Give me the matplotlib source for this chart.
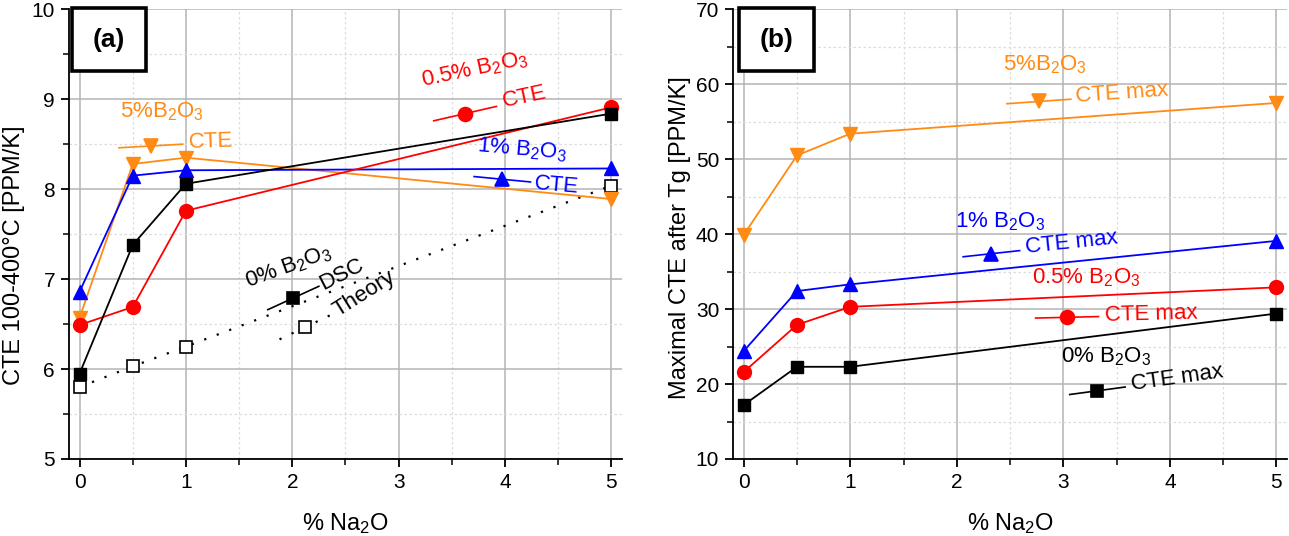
import matplotlib
matplotlib.use("Agg")
import matplotlib.pyplot as plt
from matplotlib.patches import Rectangle
from matplotlib.ticker import MultipleLocator

plt.rcParams['font.family'] = ['Liberation Sans', 'DejaVu Sans']
plt.rcParams['mathtext.fontset'] = 'custom'
plt.rcParams['mathtext.rm'] = 'Liberation Sans'
plt.rcParams['mathtext.it'] = 'Liberation Sans:italic'
plt.rcParams['mathtext.default'] = 'regular'

# ---------------- data ----------------
na2o = [0, 0.5, 1, 5]

# panel (a): CTE 100-400 C
cte_0_dsc = [5.95, 7.38, 8.06, 8.84]
cte_0_theory = [5.80, 6.03, 6.25, 8.04]
cte_05 = [6.49, 6.69, 7.76, 8.91]
cte_1 = [6.86, 8.15, 8.21, 8.23]
cte_5 = [6.57, 8.28, 8.35, 7.89]

# panel (b): maximal CTE after Tg
max_0 = [17.2, 22.3, 22.3, 29.4]
max_05 = [21.6, 27.9, 30.3, 32.9]
max_1 = [24.4, 32.4, 33.3, 39.1]
max_5 = [39.9, 50.5, 53.4, 57.5]

x_ticks = [0, 1, 2, 3, 4, 5]
a_yticks = [5, 6, 7, 8, 9, 10]
b_yticks = [10, 20, 30, 40, 50, 60, 70]

RED = '#ff0000'
BLUE = '#0000ff'
ORANGE = '#ff8a14'
BLACK = '#000000'

TICK_FS = 15
LABEL_FS = 17
ANN_FS = 16

fig = plt.figure(figsize=(12.89, 5.36), dpi=100)
axa = fig.add_axes([0.0535, 0.1437, 0.429, 0.839])
axb = fig.add_axes([0.5687, 0.1437, 0.4298, 0.839])


def style_axes(ax, ylim, yticks, yminor):
    ax.set_xlim(-0.1, 5.1)
    ax.set_ylim(*ylim)
    ax.set_xticks(x_ticks)
    ax.set_yticks(yticks)
    ax.xaxis.set_minor_locator(MultipleLocator(0.5))
    ax.yaxis.set_minor_locator(MultipleLocator(yminor))
    ax.grid(which='major', color='#b4b4b4', lw=1.1, ls='-', zorder=0)
    ax.grid(which='minor', color='#dcdcdc', lw=0.9, ls=(0, (2, 2)), zorder=0)
    ax.set_axisbelow(True)
    for s in ['top', 'right']:
        ax.spines[s].set_visible(False)
    for s in ['left', 'bottom']:
        ax.spines[s].set_linewidth(1.3)
    ax.tick_params(which='major', direction='out', length=6, width=1.3,
                   labelsize=TICK_FS, pad=4)
    ax.tick_params(which='minor', direction='out', length=4, width=1.1)
    ax.set_xlabel('% Na$_2$O', fontsize=LABEL_FS, labelpad=14)


def panel_box(ax, x0, x1, label):
    r = Rectangle((x0, 0.862), x1 - x0, 0.14, transform=ax.transAxes,
                  facecolor='white', edgecolor='black', lw=2.6,
                  clip_on=False, zorder=10)
    ax.add_patch(r)
    ax.text((x0 + x1) / 2, 0.932, label, transform=ax.transAxes,
            ha='center', va='center', fontsize=19, fontweight='bold', zorder=11)


def sample(ax, x0, y0, x1, y1, color, marker, ms, mfc=None, ls='-', lw=1.2):
    ax.plot([x0, x1], [y0, y1], color=color, lw=lw, ls=ls, zorder=6)
    ax.plot([(x0 + x1) / 2], [(y0 + y1) / 2], marker=marker, ms=ms, color=color,
            mfc=mfc if mfc else color, mec=color, mew=1.2, ls='none', zorder=7)


def txt(ax, x, y, s, color, rot=0, ha='left', fs=ANN_FS):
    ax.text(x, y, s, color=color, fontsize=fs, rotation=rot, ha=ha, va='center',
            rotation_mode='anchor', zorder=8)


# ---------------- panel (a) ----------------
style_axes(axa, (5, 10), a_yticks, 0.5)
fig.text(14 / 1289, 1 - 255 / 536, 'CTE 100-400°C [PPM/K]', fontsize=LABEL_FS,
         rotation=90, ha='center', va='center')

axa.plot(na2o, cte_0_theory, color=BLACK, lw=1.6, ls=(0, (1, 5)), marker='s',
         ms=8.5, mfc='white', mec=BLACK, mew=1.2, zorder=3)
axa.plot(na2o, cte_5, color=ORANGE, lw=1.3, marker='v', ms=10, zorder=4)
axa.plot(na2o, cte_1, color=BLUE, lw=1.3, marker='^', ms=10, zorder=4)
axa.plot(na2o, cte_05, color=RED, lw=1.3, marker='o', ms=10, zorder=4)
axa.plot(na2o, cte_0_dsc, color=BLACK, lw=1.3, marker='s', ms=8.5, zorder=5)

panel_box(axa, 0.005, 0.139, '(a)')

# annotations (a)
txt(axa, 3.72, 9.33, '0.5% B$_2$O$_3$', RED, rot=12, ha='center')
sample(axa, 3.33, 8.76, 3.92, 8.92, RED, 'o', 10)
txt(axa, 3.98, 8.97, 'CTE', RED, rot=12)

txt(axa, 0.38, 8.86, '5%B$_2$O$_3$', ORANGE)
sample(axa, 0.37, 8.46, 0.97, 8.50, ORANGE, 'v', 10)
txt(axa, 1.03, 8.52, 'CTE', ORANGE, rot=2)

txt(axa, 3.74, 8.48, '1% B$_2$O$_3$', BLUE, rot=-5)
sample(axa, 3.71, 8.14, 4.24, 8.08, BLUE, '^', 10)
txt(axa, 4.28, 8.06, 'CTE', BLUE, rot=-5)

txt(axa, 1.96, 7.14, '0% B$_2$O$_3$', BLACK, rot=20, ha='center')
sample(axa, 1.77, 6.66, 2.25, 6.92, BLACK, 's', 8.5)
txt(axa, 2.27, 6.93, 'DSC', BLACK, rot=27)
sample(axa, 1.88, 6.33, 2.36, 6.60, BLACK, 's', 8.5, mfc='white', ls=(0, (1, 5)), lw=1.6)
txt(axa, 2.40, 6.63, 'Theory', BLACK, rot=32)

# ---------------- panel (b) ----------------
style_axes(axb, (10, 70), b_yticks, 5)
fig.text(680 / 1289, 1 - 238 / 536, 'Maximal CTE after Tg [PPM/K]', fontsize=LABEL_FS,
         rotation=90, ha='center', va='center')

axb.plot(na2o, max_5, color=ORANGE, lw=1.3, marker='v', ms=10, zorder=4)
axb.plot(na2o, max_1, color=BLUE, lw=1.3, marker='^', ms=10, zorder=4)
axb.plot(na2o, max_05, color=RED, lw=1.3, marker='o', ms=10, zorder=4)
axb.plot(na2o, max_0, color=BLACK, lw=1.3, marker='s', ms=8.5, zorder=5)

panel_box(axb, 0.011, 0.146, '(b)')

txt(axb, 2.83, 62.6, '5%B$_2$O$_3$', ORANGE, ha='center')
sample(axb, 2.47, 57.4, 3.07, 58.0, ORANGE, 'v', 10)
txt(axb, 3.12, 58.3, 'CTE max', ORANGE, rot=4)

txt(axb, 2.41, 41.7, '1% B$_2$O$_3$', BLUE, ha='center')
sample(axb, 2.06, 36.98, 2.59, 37.8, BLUE, '^', 10)
txt(axb, 2.64, 38.2, 'CTE max', BLUE, rot=6)

txt(axb, 3.22, 34.2, '0.5% B$_2$O$_3$', RED, ha='center')
sample(axb, 2.74, 28.8, 3.33, 29.0, RED, 'o', 10)
txt(axb, 3.39, 29.2, 'CTE max', RED, rot=1.5)

txt(axb, 3.40, 23.6, '0% B$_2$O$_3$', BLACK, ha='center')
sample(axb, 3.06, 18.6, 3.58, 19.6, BLACK, 's', 8.5)
txt(axb, 3.64, 19.9, 'CTE max', BLACK, rot=8)

fig.savefig('out.png', dpi=100)
